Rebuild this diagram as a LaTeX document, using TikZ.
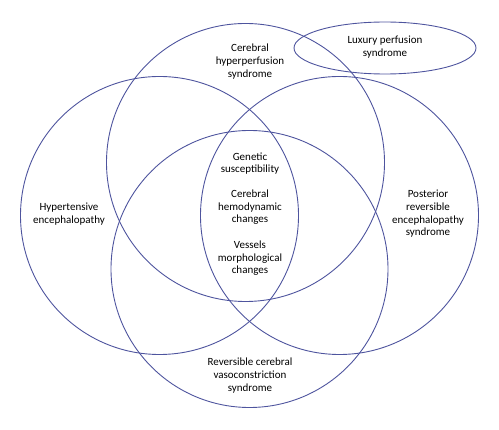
\documentclass[tikz,border=0pt]{standalone}
\usepackage{fontspec}
\setmainfont{Carlito}
\definecolor{venn}{RGB}{78,84,158}
\begin{document}
\begin{tikzpicture}[x=1pt,y=-1pt,
        ring/.style={draw=venn, line width=0.9pt},
        lbl/.style={align=center, inner sep=0pt, font=\fontsize{11}{12.6}\selectfont}]
        \useasboundingbox (0,0) rectangle (499,430);

        \draw[ring] (245.5,162.5) circle (139pt);
        \draw[ring] (159.5,215.5) circle (139pt);
        \draw[ring] (339.5,215.5) circle (139pt);
        \draw[ring] (249.5,269) circle (138.5pt);
        \draw[ring] (385,48) ellipse (91pt and 26pt);

        \node[lbl] (hyper) at (250,61.5) {Cerebral\\hyperperfusion\\syndrome};
        \node[lbl] (luxury) at (385,47) {Luxury perfusion\\syndrome};
        \node[lbl] (hypert) at (69,214) {Hypertensive\\encephalopathy};
        \node[lbl] (pres) at (428,214) {Posterior\\reversible\\encephalopathy\\syndrome};
        \node[lbl] (genetic) at (250,163.5) {Genetic\\susceptibility};
        \node[lbl] (hemo) at (250,207.5) {Cerebral\\hemodynamic\\changes};
        \node[lbl] (vessels) at (250,258.5) {Vessels\\morphological\\changes};
        \node[lbl] (rcvs) at (250,375.5) {Reversible cerebral\\vasoconstriction\\syndrome};
    \end{tikzpicture}
\end{document}
